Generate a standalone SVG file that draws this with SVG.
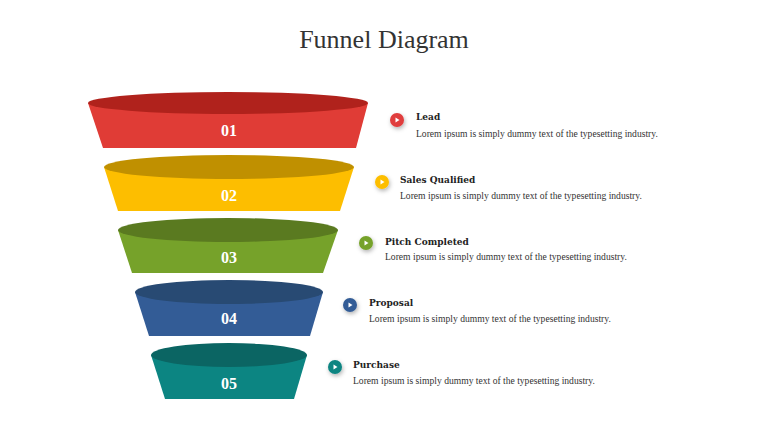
<svg xmlns="http://www.w3.org/2000/svg" width="768" height="433" viewBox="0 0 768 433">
<defs>
<filter id="sh" x="-60%" y="-60%" width="220%" height="220%">
<feDropShadow dx="1" dy="2" stdDeviation="2" flood-color="#000" flood-opacity="0.3"/>
</filter>
</defs>
<style>
.num{font-family:"Liberation Serif",serif;font-weight:bold;font-size:16px;fill:#fff;text-anchor:middle}
.ttl{font-family:"DejaVu Serif",serif;font-weight:bold;font-size:9px;fill:#222}
.dsc{font-family:"Liberation Serif",serif;font-size:9.6px;fill:#333}
.tri{fill:#fff}
</style>
<rect width="768" height="433" fill="#fff"/>
<text x="384" y="48" font-family="Liberation Serif,serif" font-size="26" fill="#333" text-anchor="middle">Funnel Diagram</text>
<g id="stage1">
<path d="M88,103 L103,148 L356,148 L368,103 Z" fill="#E03C36"/>
<ellipse cx="228" cy="103" rx="140" ry="11" fill="#B0221C"/>
<text class="num" x="229" y="136">01</text>
</g>
<g id="stage2">
<path d="M104,167 L118,211 L340,211 L354,167 Z" fill="#FDBE00"/>
<ellipse cx="229" cy="167" rx="125" ry="12" fill="#C09000"/>
<text class="num" x="229" y="201">02</text>
</g>
<g id="stage3">
<path d="M118,230 L132,273 L323,273 L338,230 Z" fill="#76A22A"/>
<ellipse cx="228" cy="230" rx="110" ry="12" fill="#5A7A20"/>
<text class="num" x="229" y="263">03</text>
</g>
<g id="stage4">
<path d="M135,292 L149,336 L310,336 L323,292 Z" fill="#335C96"/>
<ellipse cx="229" cy="292" rx="94" ry="12" fill="#284A73"/>
<text class="num" x="229" y="324">04</text>
</g>
<g id="stage5">
<path d="M151,355 L165,399 L294,399 L307,355 Z" fill="#0C8582"/>
<ellipse cx="229" cy="355" rx="78" ry="12" fill="#0B6563"/>
<text class="num" x="229" y="389">05</text>
</g>
<g id="item1">
<circle cx="397" cy="120" r="7" fill="#E03C3C" filter="url(#sh)"/>
<path class="tri" d="M395.5,117.5 L399.5,120 L395.5,122.5 Z"/>
<text class="ttl" x="416" y="120">Lead</text>
<text class="dsc" x="416" y="137">Lorem ipsum is simply dummy text of the typesetting industry.</text>
</g>
<g id="item2">
<circle cx="382" cy="182" r="7" fill="#FDBE00" filter="url(#sh)"/>
<path class="tri" d="M380.5,179.5 L384.5,182 L380.5,184.5 Z"/>
<text class="ttl" x="400" y="183">Sales Qualified</text>
<text class="dsc" x="400" y="199">Lorem ipsum is simply dummy text of the typesetting industry.</text>
</g>
<g id="item3">
<circle cx="366" cy="243" r="7" fill="#76A22A" filter="url(#sh)"/>
<path class="tri" d="M364.5,240.5 L368.5,243 L364.5,245.5 Z"/>
<text class="ttl" x="385" y="245">Pitch Completed</text>
<text class="dsc" x="385" y="260">Lorem ipsum is simply dummy text of the typesetting industry.</text>
</g>
<g id="item4">
<circle cx="350" cy="305" r="7" fill="#335C96" filter="url(#sh)"/>
<path class="tri" d="M348.5,302.5 L352.5,305 L348.5,307.5 Z"/>
<text class="ttl" x="369" y="306">Proposal</text>
<text class="dsc" x="369" y="322">Lorem ipsum is simply dummy text of the typesetting industry.</text>
</g>
<g id="item5">
<circle cx="335" cy="367" r="7" fill="#0C8582" filter="url(#sh)"/>
<path class="tri" d="M333.5,364.5 L337.5,367 L333.5,369.5 Z"/>
<text class="ttl" x="353" y="368">Purchase</text>
<text class="dsc" x="353" y="384">Lorem ipsum is simply dummy text of the typesetting industry.</text>
</g>
</svg>
